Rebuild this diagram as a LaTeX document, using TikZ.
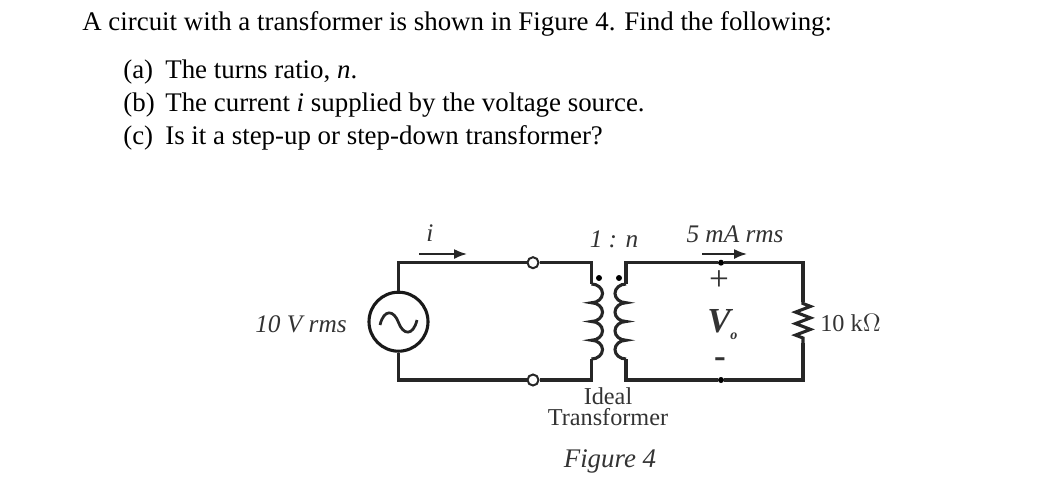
\documentclass[tikz,border=0pt]{standalone}
\usepackage{fontspec}
\setmainfont{Liberation Serif}
\usetikzlibrary{arrows.meta, decorations.pathmorphing}
\tikzset{
  wire/.style={line width=0.62mm, black!85},
  term/.style={circle, draw=black!85, fill=white, line width=0.4mm, inner sep=0pt, minimum size=2.2mm},
  blob/.style={circle, fill=black, inner sep=0pt, minimum size=1.2mm},
  src/.style={circle, draw=black!90, fill=white, line width=0.62mm, inner sep=0pt, minimum size=1.18cm},
  flow/.style={-{Latex[length=2.6mm, width=2mm]}, line width=0.35mm, black!85},
  question/.style={anchor=base west, inner sep=0pt, font=\fontsize{15.3}{18}\selectfont},
  lab/.style={inner sep=0pt, black!80, font=\fontsize{13.8}{16}\selectfont},
  ilab/.style={lab, font=\fontsize{14.4}{16}\selectfont\itshape},
}
\begin{document}
\begin{tikzpicture}
  \useasboundingbox (0,0) rectangle (21.04,9.92);
  % question text
  \node[question] (intro) at (1.64,9.31) {A circuit with a transformer is shown in Figure 4. Find the following:};
  \node[question] (qa) at (2.46,8.36) {(a)};
  \node[question] (qb) at (2.46,7.70) {(b)};
  \node[question] (qc) at (2.46,7.04) {(c)};
  \node[question] (ta) at (3.30,8.36) {The turns ratio, \textit{n}.};
  \node[question] (tb) at (3.30,7.70) {The current \textit{i} supplied by the voltage source.};
  \node[question] (tc) at (3.30,7.04) {Is it a step-up or step-down transformer?};

  % corners and pins
  \node[src] (vs) at (7.97,3.486) {};
  \coordinate (c1) at (7.97,4.666);
  \coordinate (c2) at (7.97,2.32);
  \node[term] (t1) at (10.66,4.666) {};
  \node[term] (t2) at (10.66,2.32) {};
  \coordinate (p1) at (11.83,4.666);
  \coordinate (p2) at (11.83,2.32);
  \coordinate (pt) at (11.83,4.24);
  \coordinate (pb) at (11.83,2.74);
  \coordinate (s1) at (12.52,4.666);
  \coordinate (s2) at (12.52,2.32);
  \coordinate (st) at (12.52,4.24);
  \coordinate (sb) at (12.52,2.74);
  \coordinate (r1) at (16.06,4.666);
  \coordinate (r2) at (16.06,2.32);
  \coordinate (rt) at (16.06,3.88);
  \coordinate (rb) at (16.06,3.06);
  \node[blob] (n1) at (14.42,4.666) {};
  \node[blob] (n2) at (14.42,2.32) {};
  \node[blob] (d1) at (11.98,4.36) {};
  \node[blob] (d2) at (12.38,4.36) {};

  % primary loop
  \draw[wire] (vs) -- (c1) -- (t1);
  \draw[wire] (vs) -- (c2) -- (t2);
  \draw[wire] (t1) -- (p1) -- (pt);
  \draw[wire] (t2) -- (p2) -- (pb);
  \draw[wire] (pt) \foreach \k in {1,...,4} {arc[start angle=90, end angle=-90, x radius=0.22, y radius=0.1875]};

  % secondary loop
  \draw[wire] (st) -- (s1) -- (n1) -- (r1) -- (rt);
  \draw[wire] (sb) -- (s2) -- (n2) -- (r2) -- (rb);
  \draw[wire] (st) \foreach \k in {1,...,4} {arc[start angle=90, end angle=270, x radius=0.22, y radius=0.1875]};
  \draw[wire, decorate, decoration={zigzag, segment length=2.3mm, amplitude=1.5mm, pre length=0.3mm, post length=0.3mm}] (rt) -- (rb);

  % source wave
  \draw[line width=0.55mm, black!85] (7.6,3.42) .. controls (7.68,3.75) and (7.88,3.72) .. (7.97,3.47) .. controls (8.06,3.22) and (8.26,3.19) .. (8.34,3.52);

  % current arrows
  \coordinate (ia) at (8.38,4.84);
  \coordinate (ib) at (9.34,4.84);
  \coordinate (ja) at (14.04,4.84);
  \coordinate (jb) at (14.94,4.84);
  \draw[flow] (ia) -- (ib);
  \draw[flow] (ja) -- (jb);

  % labels
  \node[ilab] (li) at (8.6,5.26) {i};
  \node[ilab] (lv) at (6.02,3.44) {10 V rms};
  \node[ilab] (ln) at (12.28,5.14) {1 : n};
  \node[ilab] (lm) at (14.7,5.24) {5 mA rms};
  \node[lab] (lr) at (16.4,3.46) [anchor=west] {10 k$\Omega$};
  \node[lab, font=\fontsize{20}{20}\selectfont] (lp) at (14.38,4.30) {+};
  \node[ilab, font=\fontsize{20}{20}\selectfont\itshape\bfseries] (lo) at (14.38,3.50) {V};
  \node[ilab, font=\fontsize{8}{8}\selectfont\itshape\bfseries] (ls) at (14.68,3.20) {o};
  \node[lab, font=\fontsize{20}{20}\selectfont\bfseries] (lq) at (14.4,2.66) {-};
  \node[lab, align=center, font=\fontsize{13.8}{11.9}\selectfont] (l1) at (12.16,1.79) {Ideal\\Transformer};
  \node[ilab, font=\fontsize{15.3}{18}\selectfont\itshape] (l3) at (12.2,0.69) {Figure 4};
\end{tikzpicture}
\end{document}
